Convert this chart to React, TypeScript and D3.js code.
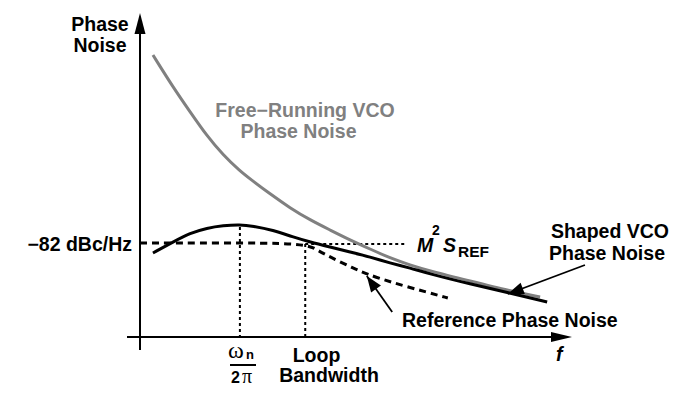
import React from "react";
import * as d3 from "d3";

// ---- data (x: offset-frequency units, y: dBc/Hz) ----
const shapedX = [0.24, 0.61, 0.93, 1.24, 1.54, 1.85, 2.09, 2.46, 2.83, 3.15, 3.52, 3.89, 4.26, 4.63, 5.0, 5.37, 6.11, 6.85, 7.54];
const shapedY = [-84, -81.8, -80, -79.0, -78.5, -78.3, -78.6, -79.4, -80.8, -81.8, -82.8, -83.8, -84.8, -86, -87, -88.2, -90.2, -92, -93.8];

const freeX = [0.24, 0.61, 0.93, 1.24, 1.54, 1.85, 2.04, 2.41, 2.78, 3.15, 3.52, 3.89, 4.26, 4.63, 5.0, 5.37, 6.11, 6.85, 7.41];
const freeY = [-44.4, -50.8, -55.8, -60.6, -64.4, -67.6, -69.2, -72.2, -75.0, -77.4, -79.4, -81.4, -83.2, -85, -86.4, -87.6, -89.6, -91.6, -92.8];

const refX = [0, 1.48, 3.06, 3.28, 3.52, 3.94, 4.2, 4.63, 5.37, 5.7];
const refY = [-82, -82, -82, -83.4, -84.8, -87, -88.2, -89.8, -92, -93];

const refLevel = -82;
const omegaN = 1.85;
const loopBW = 3.06;
const peakLevel = -78.4;
const levelLabel = "\u221282 dBc/Hz";

const W = 681;
const H = 394;
const FONT = "'Liberation Sans', Arial, Helvetica, sans-serif";
const SERIF = "'Liberation Serif', 'Times New Roman', serif";
const GREY = "#808080";

const x = d3.scaleLinear().domain([0, 8]).range([140, 572]);
const y = d3.scaleLinear().domain([-101, -36]).range([338, 13]);

function arrowHead(tx: number, ty: number, fx: number, fy: number, len: number, hw: number) {
  const a = Math.atan2(ty - fy, tx - fx);
  const bx = tx - len * Math.cos(a);
  const by = ty - len * Math.sin(a);
  const px = -Math.sin(a) * hw;
  const py = Math.cos(a) * hw;
  return `M${tx},${ty}L${bx + px},${by + py}L${bx - px},${by - py}Z`;
}

export default function App() {
  const line = d3
    .line<[number, number]>()
    .x((d) => x(d[0]))
    .y((d) => y(d[1]))
    .curve(d3.curveBasis);

  const shaped = shapedX.map((v, i) => [v, shapedY[i]] as [number, number]);
  const free = freeX.map((v, i) => [v, freeY[i]] as [number, number]);
  const ref = refX.map((v, i) => [v, refY[i]] as [number, number]);

  const x0 = x(0);
  const yAxis = y(-101) - 1;

  // annotation arrows (data coords)
  const a1 = { tx: x(6.81), ty: y(-92.2), fx: x(8.24), fy: y(-86.4) };
  const a2 = { tx: x(4.2), ty: y(-88.6), fx: x(4.67), fy: y(-95.8) };

  return (
    <svg
      width={W}
      height={H}
      style={{ position: "absolute", left: 0, top: 0, background: "#fff" }}
      fontFamily={FONT}
      fontWeight="bold"
    >
      <rect width={W} height={H} fill="#fff" />
      {/* axes */}
      <line x1={x0} y1={350} x2={x0} y2={30} stroke="#000" strokeWidth={2} />
      <path d={arrowHead(x0, 13, x0, 40, 21, 5.5)} fill="#000" />
      <line x1={127} y1={yAxis} x2={555} y2={yAxis} stroke="#000" strokeWidth={2} />
      <path d={arrowHead(572, yAxis, 540, yAxis, 21, 5)} fill="#000" />

      {/* dotted guides */}
      <line x1={x(omegaN)} y1={y(peakLevel) + 2} x2={x(omegaN)} y2={yAxis} stroke="#000" strokeWidth={2} strokeDasharray="3,3" />
      <line x1={x(loopBW)} y1={y(refLevel) + 1} x2={x(loopBW)} y2={yAxis} stroke="#000" strokeWidth={2} strokeDasharray="3,3" />
      <line x1={x(loopBW)} y1={y(refLevel) + 1} x2={405} y2={y(refLevel) + 1} stroke="#000" strokeWidth={2} strokeDasharray="3,3" />

      {/* curves */}
      <path d={line(free) || ""} fill="none" stroke={GREY} strokeWidth={3} />
      <path d={line(ref) || ""} fill="none" stroke="#000" strokeWidth={3} strokeDasharray="7,5" />
      <path d={line(shaped) || ""} fill="none" stroke="#000" strokeWidth={3} />

      {/* annotation arrows */}
      <line x1={a1.fx} y1={a1.fy} x2={a1.tx} y2={a1.ty} stroke="#000" strokeWidth={1.8} />
      <path d={arrowHead(a1.tx, a1.ty, a1.fx, a1.fy, 16, 6)} fill="#000" />
      <line x1={a2.fx} y1={a2.fy} x2={a2.tx} y2={a2.ty} stroke="#000" strokeWidth={1.8} />
      <path d={arrowHead(a2.tx, a2.ty, a2.fx, a2.fy, 16, 6)} fill="#000" />

      {/* text */}
      <g fontSize={19.5} fill="#000">
        <text x={100} y={31} textAnchor="middle">Phase</text>
        <text x={100} y={52} textAnchor="middle">Noise</text>
        <text x={132} y={251} textAnchor="end">{levelLabel}</text>
        <text x={305} y={117} textAnchor="middle" fill={GREY}>Free{"\u2212"}Running VCO</text>
        <text x={298.5} y={138} textAnchor="middle" fill={GREY}>Phase Noise</text>
        <text x={610} y={238} textAnchor="middle">Shaped VCO</text>
        <text x={607} y={260} textAnchor="middle">Phase Noise</text>
        <text x={402} y={327}>Reference Phase Noise</text>
        <text x={556} y={361} fontStyle="italic">f</text>
        <text x={316.5} y={362} textAnchor="middle">Loop</text>
        <text x={329} y={382} textAnchor="middle">Bandwidth</text>
        <text x={417} y={252} fontStyle="italic">M</text>
        <text x={432} y={235} fontSize={14}>2</text>
        <text x={443} y={252} fontStyle="italic">S</text>
        <text x={458} y={257} fontSize={15.5}>REF</text>
        <text x={228} y={358} fontWeight="normal" fontFamily={SERIF} fontSize={24}>{"\u03C9"}</text>
        <text x={246} y={359} fontSize={13}>n</text>
        <text x={231} y={383} fontSize={16}>2</text>
        <text x={242} y={383} fontWeight="normal" fontFamily={SERIF} fontSize={20}>{"\u03C0"}</text>
      </g>
      <line x1={230} y1={365} x2={256} y2={365} stroke="#000" strokeWidth={2} />
    </svg>
  );
}
